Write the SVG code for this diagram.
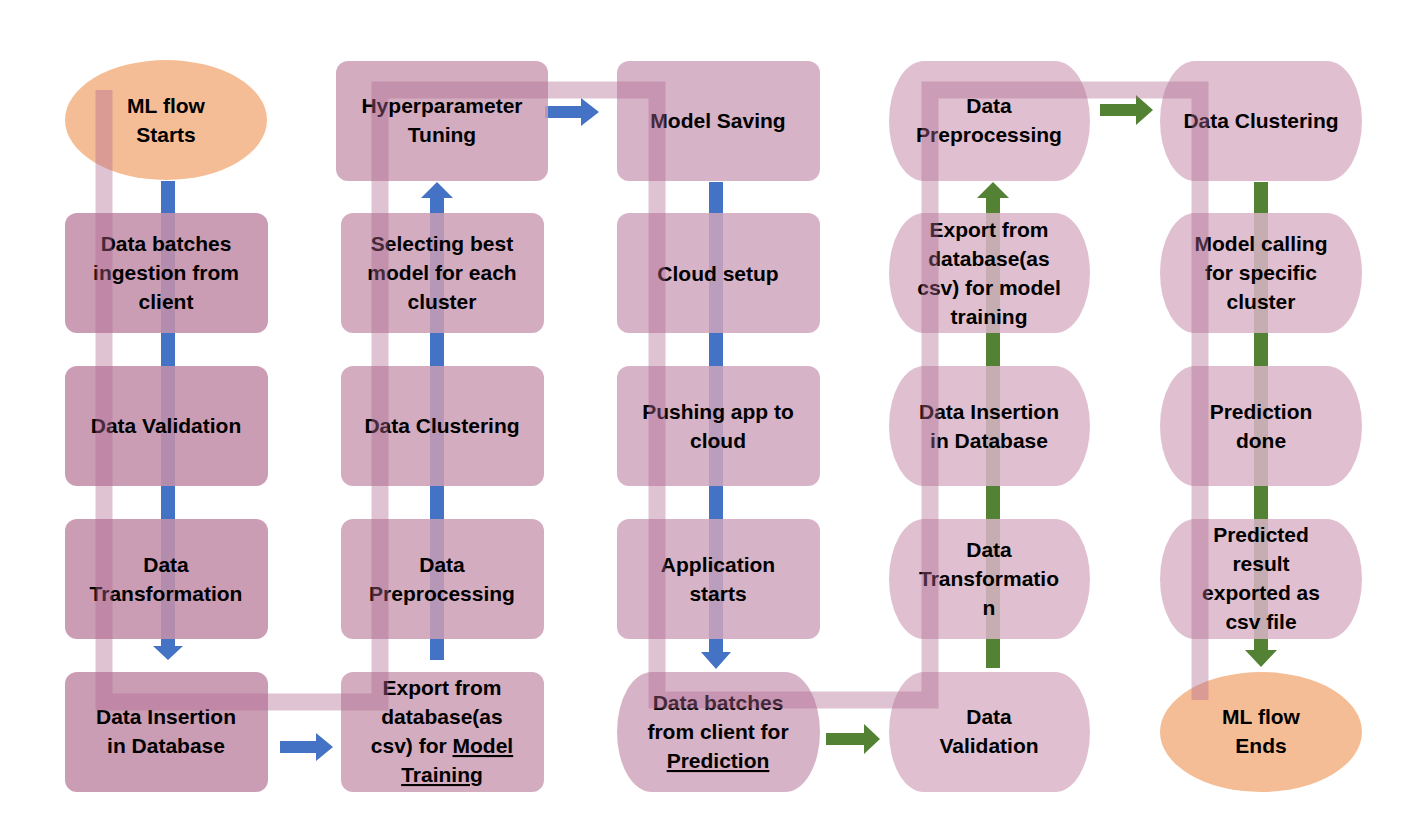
<svg xmlns="http://www.w3.org/2000/svg" width="1402" height="837" viewBox="0 0 1402 837">
<style>
text{font-family:"Liberation Sans",Arial,sans-serif;font-weight:bold;font-size:21px;fill:#000;text-anchor:middle}
.c1{fill:#c48fab;opacity:.88}
.c2{fill:#cb9db5;opacity:.85}
.c3{fill:#d0a6bd;opacity:.85}
.c4{fill:#dbb5c8;opacity:.85}
.st{fill:#f5bd95}
.snake{fill:none;stroke:#b06890;stroke-opacity:.4;stroke-width:17;stroke-linejoin:miter}
</style>
<rect width="1402" height="837" fill="#fff"/>
<g id="connectors">
<g fill="#4472c4">
<path d="M161,181h14v465h8l-15,14l-15,-14h8z"/>
<path d="M430,660h14v-462h9l-16,-16l-16,16h9z"/>
<path d="M709,182h14v470h8l-15,17l-15,-17h8z"/>
<path d="M545,106h36v-8l18,14l-18,14v-8h-36z"/>
<path d="M280,741h36v-8l17,14l-17,14v-8h-36z"/>
</g>
<g fill="#548235">
<path d="M986,668h14v-470h9l-16,-16l-16,16h9z"/>
<path d="M1254,182h14v468h9l-16,17l-16,-17h9z"/>
<path d="M826,733h38v-9l16,15l-16,15v-9h-38z"/>
<path d="M1100,104h36v-9l17,15l-17,15v-9h-36z"/>
</g>
</g>
<g id="n1"><ellipse class="st" cx="166" cy="120" rx="101" ry="60"/><text x="166" y="113">ML flow</text><text x="166" y="142">Starts</text></g>
<g id="n2"><rect class="c1" x="65" y="213" width="203" height="120" rx="12"/><text x="166" y="251">Data batches</text><text x="166" y="280">ingestion from</text><text x="166" y="309">client</text></g>
<g id="n3"><rect class="c1" x="65" y="366" width="203" height="120" rx="12"/><text x="166" y="433">Data Validation</text></g>
<g id="n4"><rect class="c1" x="65" y="519" width="203" height="120" rx="12"/><text x="166" y="572">Data</text><text x="166" y="601">Transformation</text></g>
<g id="n5"><rect class="c1" x="65" y="672" width="203" height="120" rx="12"/><text x="166" y="724">Data Insertion</text><text x="166" y="753">in Database</text></g>
<g id="n6"><rect class="c2" x="341" y="672" width="203" height="120" rx="12"/><text x="442" y="695">Export from</text><text x="442" y="724">database(as</text><text x="442" y="753">csv) for <tspan text-decoration="underline">Model</tspan></text><text x="442" y="782" text-decoration="underline">Training</text></g>
<g id="n7"><rect class="c2" x="341" y="519" width="203" height="120" rx="12"/><text x="442" y="572">Data</text><text x="442" y="601">Preprocessing</text></g>
<g id="n8"><rect class="c2" x="341" y="366" width="203" height="120" rx="12"/><text x="442" y="433">Data Clustering</text></g>
<g id="n9"><rect class="c2" x="341" y="213" width="203" height="120" rx="12"/><text x="442" y="251">Selecting best</text><text x="442" y="280">model for each</text><text x="442" y="309">cluster</text></g>
<g id="n10"><rect class="c2" x="336" y="61" width="212" height="120" rx="12"/><text x="442" y="113">Hyperparameter</text><text x="442" y="142">Tuning</text></g>
<g id="n11"><rect class="c3" x="617" y="61" width="203" height="120" rx="12"/><text x="718" y="128">Model Saving</text></g>
<g id="n12"><rect class="c3" x="617" y="213" width="203" height="120" rx="12"/><text x="718" y="281">Cloud setup</text></g>
<g id="n13"><rect class="c3" x="617" y="366" width="203" height="120" rx="12"/><text x="718" y="419">Pushing app to</text><text x="718" y="448">cloud</text></g>
<g id="n14"><rect class="c3" x="617" y="519" width="203" height="120" rx="12"/><text x="718" y="572">Application</text><text x="718" y="601">starts</text></g>
<g id="n15"><rect class="c3" x="617" y="672" width="203" height="120" rx="35" ry="60"/><text x="718" y="710">Data batches</text><text x="718" y="739">from client for</text><text x="718" y="768" text-decoration="underline">Prediction</text></g>
<g id="n16"><rect class="c4" x="889" y="672" width="201" height="120" rx="35" ry="60"/><text x="989" y="724">Data</text><text x="989" y="753">Validation</text></g>
<g id="n17"><rect class="c4" x="889" y="519" width="201" height="120" rx="35" ry="60"/><text x="989" y="557">Data</text><text x="989" y="586">Transformatio</text><text x="989" y="615">n</text></g>
<g id="n18"><rect class="c4" x="889" y="366" width="201" height="120" rx="35" ry="60"/><text x="989" y="419">Data Insertion</text><text x="989" y="448">in Database</text></g>
<g id="n19"><rect class="c4" x="889" y="213" width="201" height="120" rx="35" ry="60"/><text x="989" y="237">Export from</text><text x="989" y="266">database(as</text><text x="989" y="295">csv) for model</text><text x="989" y="324">training</text></g>
<g id="n20"><rect class="c4" x="889" y="61" width="201" height="120" rx="35" ry="60"/><text x="989" y="113">Data</text><text x="989" y="142">Preprocessing</text></g>
<g id="n21"><rect class="c4" x="1160" y="61" width="202" height="120" rx="35" ry="60"/><text x="1261" y="128">Data Clustering</text></g>
<g id="n22"><rect class="c4" x="1160" y="213" width="202" height="120" rx="35" ry="60"/><text x="1261" y="251">Model calling</text><text x="1261" y="280">for specific</text><text x="1261" y="309">cluster</text></g>
<g id="n23"><rect class="c4" x="1160" y="366" width="202" height="120" rx="35" ry="60"/><text x="1261" y="419">Prediction</text><text x="1261" y="448">done</text></g>
<g id="n24"><rect class="c4" x="1160" y="519" width="202" height="120" rx="35" ry="60"/><text x="1261" y="542">Predicted</text><text x="1261" y="571">result</text><text x="1261" y="600">exported as</text><text x="1261" y="629">csv file</text></g>
<g id="n25"><ellipse class="st" cx="1261" cy="732" rx="101" ry="60"/><text x="1261" y="724">ML flow</text><text x="1261" y="753">Ends</text></g>
<path class="snake" d="M104,90V702H380V90H657V700H930V90H1200V700"/>
</svg>
